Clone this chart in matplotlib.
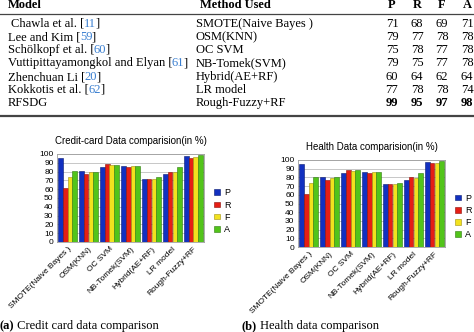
import numpy as np
import matplotlib
matplotlib.use("Agg")
import matplotlib.pyplot as plt
from matplotlib.lines import Line2D

# table data
models = ["Chawla et al. [11]", "Lee and Kim [59]", "Schölkopf et al. [60]",
          "Vuttipittayamongkol and Elyan [61]", "Zhenchuan Li [20]",
          "Kokkotis et al. [62]", "RFSDG"]
methods = ["SMOTE(Naive Bayes )", "OSM(KNN)", "OC SVM", "NB-Tomek(SVM)",
           "Hybrid(AE+RF)", "LR model", "Rough-Fuzzy+RF"]
tab_p = [71, 79, 75, 79, 60, 77, 99]
tab_r = [68, 77, 78, 75, 64, 78, 95]
tab_f = [69, 78, 77, 77, 62, 78, 97]
tab_a = [71, 78, 78, 78, 64, 74, 98]

# bar chart data (same numbers in both panels)
credit_p = [95, 81, 85, 86, 72, 77, 98]
credit_r = [61, 77, 89, 85, 72, 80, 96]
credit_f = [74, 79, 87, 86, 72, 79, 97]
credit_a = [81, 80, 88, 86, 74, 85, 99]

health_p = [95, 81, 85, 86, 72, 77, 98]
health_r = [61, 77, 89, 85, 72, 80, 96]
health_f = [74, 79, 87, 86, 72, 79, 97]
health_a = [81, 80, 88, 86, 74, 85, 99]

series_names = ["P", "R", "F", "A"]
colors = ["#1230c0", "#e61e14", "#f2e21e", "#52c41a"]
edges = ["#0a1a70", "#8a100a", "#a09010", "#2e7a10"]

W, H = 474, 332
fig = plt.figure(figsize=(W / 100, H / 100), dpi=100)


def fx(x):
    return x / W


def fy(y):
    return 1 - y / H


serif = "Liberation Serif"
sans = "Liberation Sans"
fs_tab = 9

# ---- table ----
cols_num = [392, 417, 442, 467]
fig.text(fx(8), fy(5), "Model", family=serif, fontsize=fs_tab, weight="bold", va="center")
fig.text(fx(200), fy(5), "Method Used", family=serif, fontsize=fs_tab, weight="bold", va="center")
for x, h in zip(cols_num, series_names):
    fig.text(fx(x), fy(5), h, family=serif, fontsize=fs_tab, weight="bold", va="center", ha="center")
fig.add_artist(Line2D([0, 1], [fy(14), fy(14)], color="#444444", lw=0.9))
fig.add_artist(Line2D([0, 1], [fy(116), fy(116)], color="#444444", lw=1.6))

fig.canvas.draw()
row_y = [24, 37, 50, 63, 77, 90, 103]
for i, y in enumerate(row_y):
    name = models[i]
    xs = 11 if i == 0 else 8
    if "[" in name:
        base, ref = name.split("[")
        t = fig.text(fx(xs), fy(y), base + "[", family=serif, fontsize=fs_tab, va="center")
        x1 = t.get_window_extent().x1 - 0.5
        t2 = fig.text(x1 / W, fy(y), ref[:-1], family=serif,
                      fontsize=fs_tab, va="center", color="#3a7fd0")
        x2 = t2.get_window_extent().x1 - 0.5
        fig.text(x2 / W, fy(y), "]", family=serif, fontsize=fs_tab, va="center")
    else:
        fig.text(fx(xs), fy(y), name, family=serif, fontsize=fs_tab, va="center")
    fig.text(fx(196), fy(y), methods[i], family=serif, fontsize=fs_tab, va="center")
    bold = "bold" if i == len(row_y) - 1 else "normal"
    for x, v in zip(cols_num, [tab_p[i], tab_r[i], tab_f[i], tab_a[i]]):
        fig.text(fx(x), fy(y), str(v), family=serif, fontsize=fs_tab, va="center",
                 ha="center", weight=bold)


# ---- bar charts ----
def draw_bars(ax, vals, title):
    x = np.arange(len(methods))
    w = 0.225
    for k, v in enumerate(vals):
        ax.bar(x + (k - 1.5) * w, v, w, color=colors[k], edgecolor=edges[k],
               linewidth=0.4, label=series_names[k], zorder=3)
    ax.set_xlim(-0.5, len(methods) - 0.5)
    ax.set_ylim(0, 100)
    ax.set_yticks(range(0, 101, 10))
    ax.yaxis.grid(True, color="#b0b0b0", lw=0.5, zorder=0)
    ax.set_xticks(x)
    ax.set_xticklabels(methods, rotation=45, ha="right", rotation_mode="anchor",
                       family=sans, fontsize=6)
    for lab in ax.get_yticklabels():
        lab.set_family(sans)
        lab.set_fontsize(6)
    ax.tick_params(length=0, pad=2.5)
    for s in ax.spines.values():
        s.set_color("#a0a0a0")
        s.set_linewidth(0.6)
    ax.set_title(title, family=sans, fontsize=7, pad=7)
    ax.legend(loc="center left", bbox_to_anchor=(1.04, 0.35), frameon=False,
              prop={"family": sans, "size": 6.5}, handlelength=0.6, handleheight=0.6,
              handletextpad=0.5, labelspacing=0.35, borderpad=0)


ax_a = fig.add_axes([fx(57), fy(242), fx(147), 88 / H])
draw_bars(ax_a, [credit_p, credit_r, credit_f, credit_a], "Credit-card Data comparision(in %)")

ax_b = fig.add_axes([fx(298), fy(247), fx(147), 87 / H])
draw_bars(ax_b, [health_p, health_r, health_f, health_a], "Health Data comparision(in %)")

# captions
for x0, tag, txt in [(0, "(a)", " Credit card data comparison"),
                     (242, "(b)", " Health data comparison")]:
    t = fig.text(fx(x0), fy(326), tag, family=serif, fontsize=9, weight="bold", va="center")
    x1 = t.get_window_extent(renderer=fig.canvas.get_renderer()).x1
    fig.text(x1 / W, fy(326), txt, family=serif, fontsize=9, va="center")

fig.savefig("out.png", dpi=100)
